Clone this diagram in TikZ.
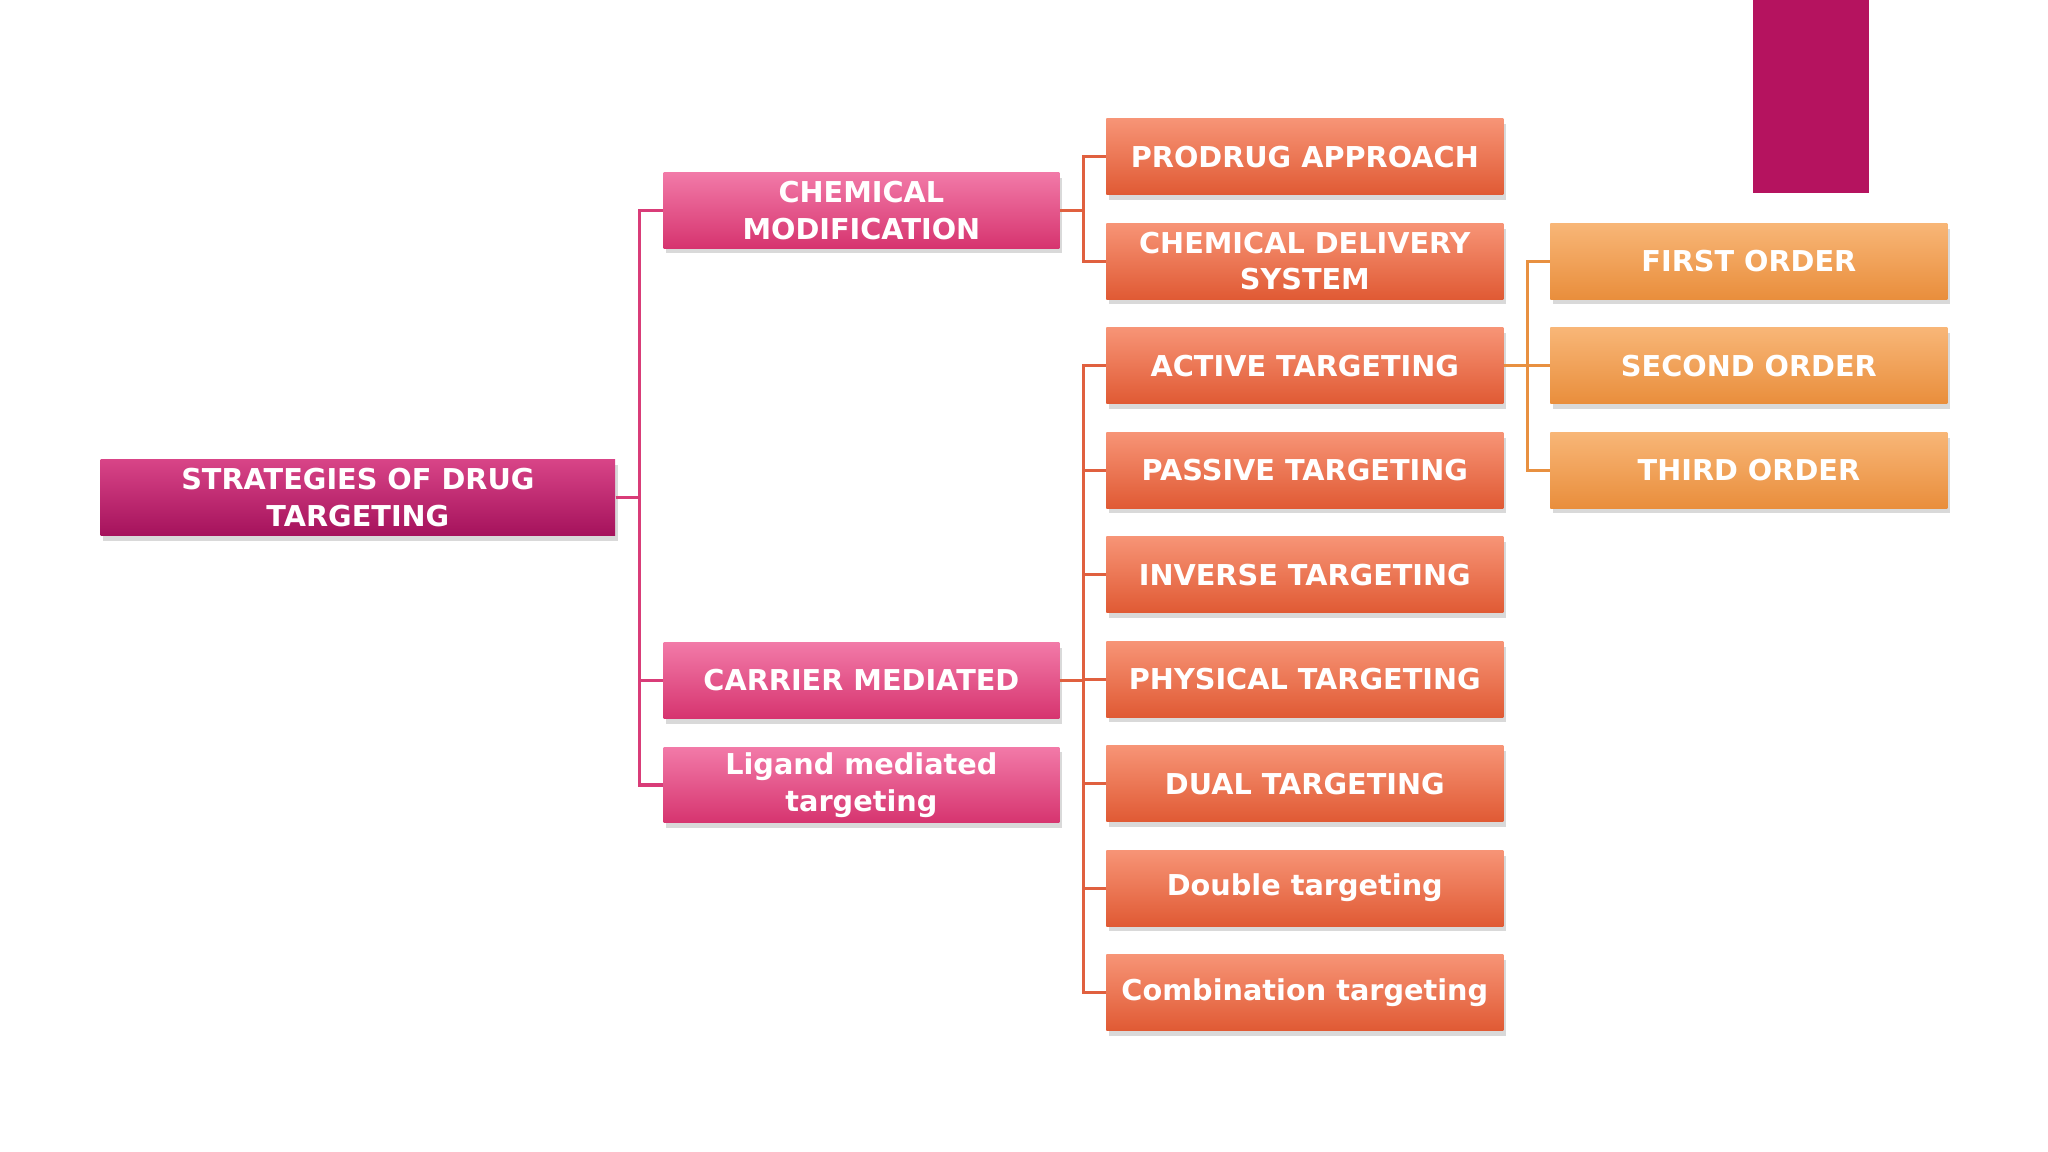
\documentclass[tikz,border=0pt]{standalone}
\usepackage{fontspec}
\setmainfont{DejaVu Sans}
\usetikzlibrary{shadows}
\definecolor{rootT}{HTML}{D84487}\definecolor{rootB}{HTML}{A5125C}
\definecolor{l2T}{HTML}{F27AA8}\definecolor{l2B}{HTML}{D6346F}
\definecolor{l3T}{HTML}{F79476}\definecolor{l3B}{HTML}{E05A34}
\definecolor{l4T}{HTML}{F8B677}\definecolor{l4B}{HTML}{E98E3C}
\definecolor{lnA}{HTML}{D93C78}\definecolor{lnB}{HTML}{E0603F}
\definecolor{lnC}{HTML}{E89040}\definecolor{bar}{HTML}{B5135F}
\begin{document}
\begin{tikzpicture}[x=0.5pt,y=-0.5pt,
 box/.style={minimum height=29pt,inner sep=1pt,align=center,text=white,font=\bfseries\fontsize{11}{14}\selectfont,drop shadow={shadow xshift=1pt,shadow yshift=-2pt,opacity=0.3}},
 root/.style={box,minimum width=197pt,top color=rootT,bottom color=rootB},
 l2/.style={box,minimum width=151.5pt,top color=l2T,bottom color=l2B},
 l3/.style={box,minimum width=152pt,top color=l3T,bottom color=l3B},
 l4/.style={box,minimum width=152pt,top color=l4T,bottom color=l4B},
 ca/.style={lnA,line width=1.2pt},cb/.style={lnB,line width=1.2pt},cc/.style={lnC,line width=1.2pt}]
\useasboundingbox (0,0) rectangle (1568,882);
\fill[bar] (1342,0) rectangle (1431,148);
\node[root] (r) at (274,381) {STRATEGIES OF DRUG\\TARGETING};
\node[l2] (cm) at (659.5,161) {CHEMICAL\\MODIFICATION};
\node[l2] (car) at (659.5,521) {CARRIER MEDIATED};
\node[l2] (lig) at (659.5,601) {Ligand mediated\\targeting};
\node[l3] (a1) at (999,120) {PRODRUG APPROACH};
\node[l3] (a2) at (999,200) {CHEMICAL DELIVERY\\SYSTEM};
\node[l3] (b1) at (999,280) {ACTIVE TARGETING};
\node[l3] (b2) at (999,360) {PASSIVE TARGETING};
\node[l3] (b3) at (999,440) {INVERSE TARGETING};
\node[l3] (b4) at (999,520) {PHYSICAL TARGETING};
\node[l3] (b5) at (999,600) {DUAL TARGETING};
\node[l3] (b6) at (999,680) {Double targeting};
\node[l3] (b7) at (999,760) {Combination targeting};
\node[l4] (c1) at (1339,200) {FIRST ORDER};
\node[l4] (c2) at (1339,280) {SECOND ORDER};
\node[l4] (c3) at (1339,360) {THIRD ORDER};
\foreach \t in {cm,car,lig} \draw[ca] (r.east) -- ++(18,0) |- (\t.west);
\foreach \t in {a1,a2} \draw[cb] (cm.east) -- ++(18,0) |- (\t.west);
\foreach \t in {b1,b2,b3,b4,b5,b6,b7} \draw[cb] (car.east) -- ++(18,0) |- (\t.west);
\foreach \t in {c1,c2,c3} \draw[cc] (b1.east) -- ++(18,0) |- (\t.west);
\end{tikzpicture}
\end{document}
